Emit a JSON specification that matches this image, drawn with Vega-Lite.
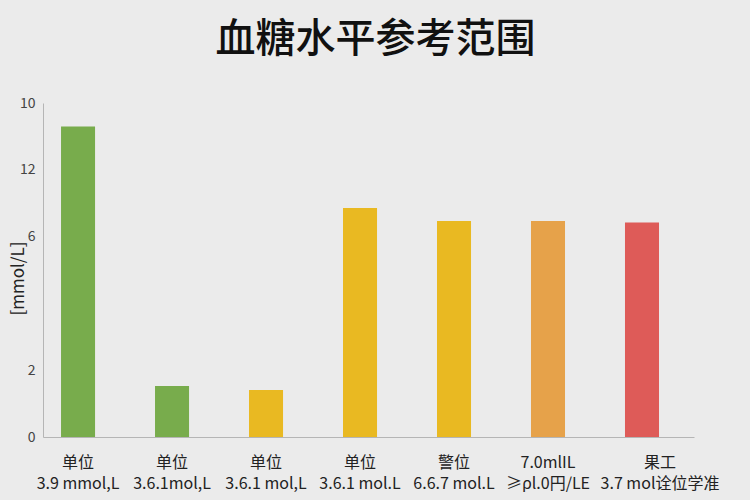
{
  "$schema": "https://vega.github.io/schema/vega-lite/v6.json",
  "description": "Bar chart of blood glucose reference ranges.",
  "autosize": {"type": "none"},
  "padding": {"left": 43, "top": 103, "right": 56, "bottom": 63},
  "width": 651,
  "height": 334,
  "background": "#ebebeb",
  "title": {
    "text": "血糖水平参考范围",
    "font": "Noto Sans CJK SC",
    "fontSize": 40,
    "fontWeight": 500,
    "color": "#111111",
    "anchor": "middle",
    "offset": 36,
    "dx": 7
  },
  "data": {
    "values": [
      {"item": "单位|3.9 mmol,L", "value": 9.3},
      {"item": "单位|3.6.1mol,L", "value": 1.53},
      {"item": "单位|3.6.1 mol,L", "value": 1.41},
      {"item": "单位|3.6.1 mol.L", "value": 6.86},
      {"item": "警位|6.6.7 mol.L", "value": 6.47},
      {"item": "7.0mlIL|≥ρl.0円/LE", "value": 6.47},
      {"item": "果工|3.7 mol诠位学准", "value": 6.42}
    ]
  },
  "mark": {"type": "bar"},
  "encoding": {
    "x": {
      "field": "item",
      "type": "nominal",
      "sort": null,
      "scale": {"paddingInner": 0.638, "paddingOuter": 0.282, "align": 0.34},
      "axis": {
        "title": null,
        "labelAngle": 0,
        "labelExpr": "split(datum.label, '|')",
        "labelFont": "Noto Sans CJK SC",
        "labelFontSize": 16,
        "labelColor": "#222222",
        "labelLineHeight": 21,
        "labelPadding": 17,
        "labelOffset": {"condition": {"test": "datum.value == '果工|3.7 mol诠位学准'", "value": 18}, "value": 0},
        "ticks": false,
        "domainColor": "#b5b5b5"
      }
    },
    "y": {
      "field": "value",
      "type": "quantitative",
      "scale": {"domain": [0, 10], "nice": false},
      "axis": {
        "title": "[mmol/L]",
        "titleFont": "Noto Sans CJK SC",
        "titleFontSize": 17,
        "titleFontWeight": "normal",
        "titleColor": "#222222",
        "titleX": -16,
        "titleY": 175,
        "values": [0, 2, 4, 6, 8, 10],
        "labelExpr": "datum.value == 0 ? '0' : datum.value == 2 ? '2' : datum.value == 4 ? '' : datum.value == 6 ? '6' : datum.value == 8 ? '12' : '10'",
        "labelFont": "Noto Sans CJK SC",
        "labelFontSize": 14,
        "labelColor": "#444444",
        "labelPadding": 8,
        "ticks": false,
        "grid": false,
        "domainColor": "#b5b5b5"
      }
    },
    "color": {
      "field": "item",
      "type": "nominal",
      "sort": null,
      "scale": {
        "range": ["#78ac4c", "#78ac4c", "#e9b922", "#e9b922", "#e9b922", "#e6a24a", "#de5b58"]
      },
      "legend": null
    }
  },
  "config": {
    "view": {"stroke": null}
  }
}
